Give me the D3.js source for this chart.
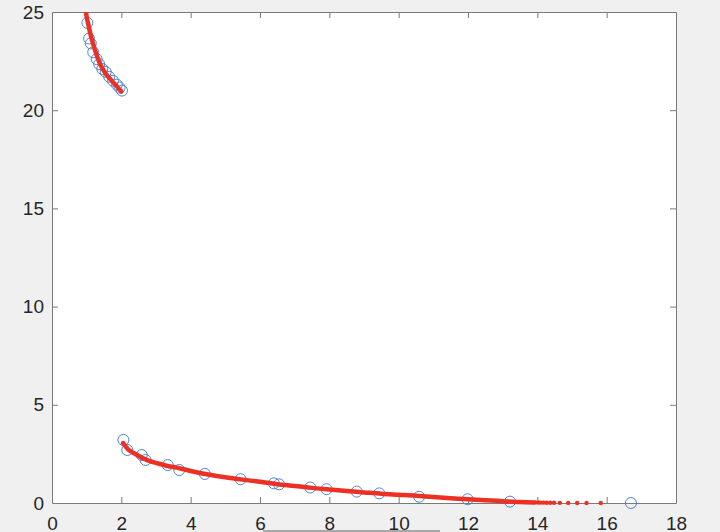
<!DOCTYPE html>
<html>
<head>
<meta charset="utf-8">
<script src="https://cdn.jsdelivr.net/npm/d3@7"></script>
<style>
  body { margin: 0; background: #f0f0f0; }
  svg { display: block; }
  .tick text { font-family: "Liberation Sans", Arial, sans-serif; font-size: 19px; fill: #262626; }
</style>
</head>
<body>
<div id="chart"></div>
<script>
// Data
// Measured points, upper branch
const measUpperX = [1.02, 1.07, 1.12, 1.19, 1.29, 1.36, 1.45, 1.55, 1.65, 1.76, 1.87, 1.95, 2.02]
const measUpperY = [24.45, 23.65, 23.4, 22.95, 22.6, 22.35, 22.1, 21.95, 21.7, 21.5, 21.3, 21.15, 21.0]

// Measured points, lower branch
const measLowerX = [2.06, 2.17, 2.59, 2.70, 3.34, 3.67, 4.41, 5.44, 6.40, 6.55, 7.45, 7.92, 8.79, 9.44, 10.59, 11.99, 13.21, 16.70]
const measLowerY = [3.21, 2.70, 2.44, 2.19, 1.93, 1.68, 1.48, 1.21, 1.00, 0.95, 0.79, 0.70, 0.58, 0.49, 0.32, 0.19, 0.07, 0.0]

// Fitted curve, upper branch
const fitUpperX = [0.98, 1.0, 1.05, 1.1, 1.15, 1.2, 1.3, 1.4, 1.5, 1.6, 1.7, 1.8, 1.9, 2.0]
const fitUpperY = [25.0, 24.75, 24.35, 23.95, 23.6, 23.3, 22.75, 22.3, 22.0, 21.75, 21.55, 21.35, 21.15, 20.95]

// Fitted curve, lower branch (dense part)
const fitLowerX = [2.05, 2.2, 2.4, 2.6, 2.8, 3.0, 3.3, 3.6, 4.0, 4.5, 5.0, 5.5, 6.0, 6.5, 7.0, 7.5, 8.0, 8.5, 9.0, 9.5, 10, 10.5, 11, 11.5, 12, 12.5, 13, 13.5, 13.9]
const fitLowerY = [3.05, 2.72, 2.5, 2.3, 2.14, 2.04, 1.9, 1.8, 1.63, 1.45, 1.31, 1.19, 1.08, 0.96, 0.87, 0.77, 0.69, 0.61, 0.54, 0.47, 0.42, 0.37, 0.30, 0.24, 0.19, 0.14, 0.095, 0.05, 0.03]

// Fitted curve, sparse tail dots
const tailX = [13.95, 14.03, 14.1, 14.18, 14.27, 14.37, 14.48, 14.65, 14.89, 15.15, 15.42, 15.83]
const tailY = [0.03, 0.025, 0.02, 0.02, 0.015, 0.012, 0.01, 0.008, 0.005, 0.003, 0.002, 0.0]

const xTicks = [0, 2, 4, 6, 8, 10, 12, 14, 16, 18]
const yTicks = [0, 5, 10, 15, 20, 25]

// Dimensions
const width = 720
const height = 532
const margin = {top: 12, right: 44, bottom: 29, left: 52}
const plotWidth = width - margin.left - margin.right
const plotHeight = height - margin.top - margin.bottom
const tickLen = 6
const axisColor = "#7a7a7a"
const blue = "#4f86d1"
const red = "#ec3024"

const svg = d3.select("#chart")
  .append("svg")
    .attr("width", width)
    .attr("height", height)

const plot = svg.append("g")
    .attr("transform", `translate(${margin.left},${margin.top})`)

const xScale = d3.scaleLinear().domain([0, 18]).range([0, plotWidth])
const yScale = d3.scaleLinear().domain([0, 25]).range([plotHeight, 0])

const zip = (xs, ys) => xs.map((x, i) => ({x: x, y: ys[i]}))

// White plot area
plot.append("rect")
    .attr("width", plotWidth)
    .attr("height", plotHeight)
    .attr("fill", "#ffffff")

// Clip for data
plot.append("clipPath")
    .attr("id", "clip")
  .append("rect")
    .attr("x", -8)
    .attr("y", 0)
    .attr("width", plotWidth + 16)
    .attr("height", plotHeight + 8)

// Axes (box with inward ticks on all sides)
const bottomAxis = plot.append("g")
    .attr("transform", `translate(0,${plotHeight})`)
    .call(d3.axisBottom(xScale).tickValues(xTicks).tickSizeInner(-tickLen).tickSizeOuter(0).tickPadding(17))
const topAxis = plot.append("g")
    .call(d3.axisTop(xScale).tickValues(xTicks).tickSizeInner(-tickLen).tickSizeOuter(0).tickFormat(""))
const leftAxis = plot.append("g")
    .call(d3.axisLeft(yScale).tickValues(yTicks).tickSizeInner(-tickLen).tickSizeOuter(0).tickPadding(8))
const rightAxis = plot.append("g")
    .attr("transform", `translate(${plotWidth},0)`)
    .call(d3.axisRight(yScale).tickValues(yTicks).tickSizeInner(-tickLen).tickSizeOuter(0).tickFormat(""))

plot.selectAll(".domain").attr("stroke", axisColor)
plot.selectAll(".tick line").attr("stroke", axisColor)
// Hide ticks that sit on the box corners
bottomAxis.selectAll(".tick").filter(d => d === 0 || d === 18).select("line").remove()
topAxis.selectAll(".tick").filter(d => d === 0 || d === 18).select("line").remove()
leftAxis.selectAll(".tick").filter(d => d === 0 || d === 25).select("line").remove()
rightAxis.selectAll(".tick").filter(d => d === 0 || d === 25).select("line").remove()
bottomAxis.selectAll(".tick text").attr("dy", "0.5em")

const data = plot.append("g").attr("clip-path", "url(#clip)")

// Measured points (open circles)
data.selectAll(".meas")
    .data(zip(measUpperX, measUpperY).concat(zip(measLowerX, measLowerY)))
    .enter().append("circle")
    .attr("class", "meas")
    .attr("cx", d => xScale(d.x))
    .attr("cy", d => yScale(d.y))
    .attr("r", 5.5)
    .attr("fill", "none")
    .attr("stroke", blue)
    .attr("stroke-width", 1)

// Fitted curve: dense red dots merge into a thick line
const lineGen = d3.line()
    .x(d => xScale(d.x))
    .y(d => yScale(d.y))
    .curve(d3.curveCatmullRom)

;[zip(fitUpperX, fitUpperY), zip(fitLowerX, fitLowerY)].forEach(function(seg) {
  data.append("path")
      .datum(seg)
      .attr("d", lineGen)
      .attr("fill", "none")
      .attr("stroke", red)
      .attr("stroke-width", 4.5)
      .attr("stroke-linecap", "round")
})

data.selectAll(".tail")
    .data(zip(tailX, tailY))
    .enter().append("circle")
    .attr("class", "tail")
    .attr("cx", d => xScale(d.x))
    .attr("cy", d => yScale(d.y))
    .attr("r", 2.2)
    .attr("fill", red)

// Stray dark line at the bottom edge of the screenshot
svg.append("line")
    .attr("x1", 263).attr("x2", 440)
    .attr("y1", 531).attr("y2", 531)
    .attr("stroke", "#606060")
    .attr("stroke-width", 1)
</script>
</body>
</html>
